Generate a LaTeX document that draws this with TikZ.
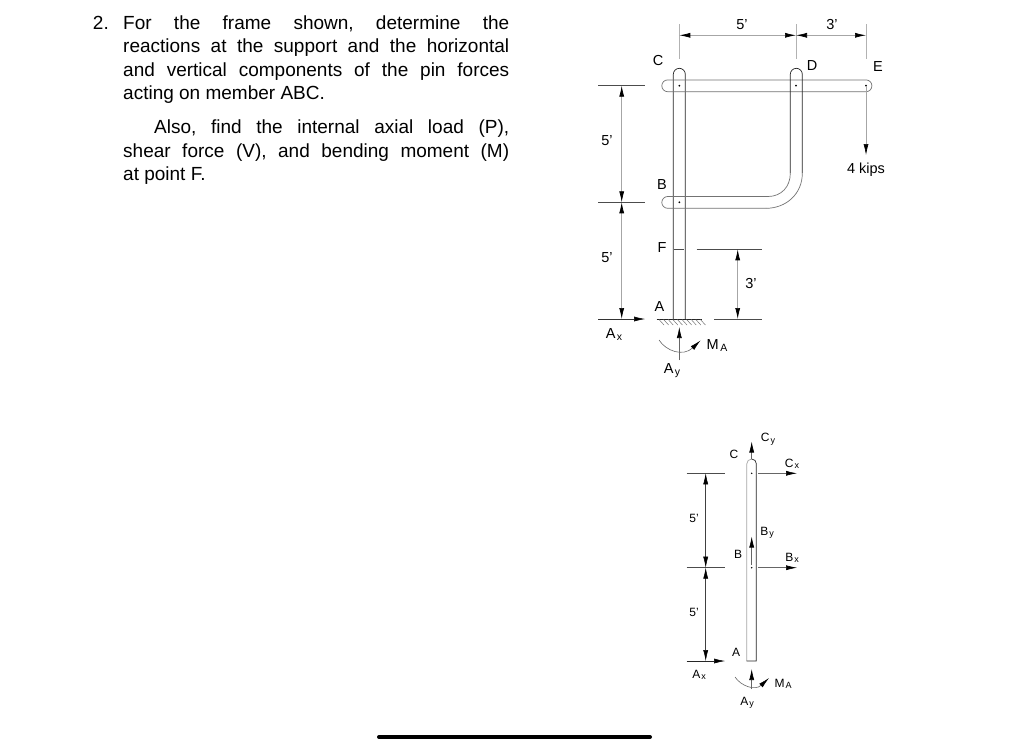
\documentclass[tikz,border=0pt]{standalone}
\usepackage{fontspec}
\setmainfont{Liberation Sans}
\usetikzlibrary{arrows.meta}
\frenchspacing
\tikzset{
 x=1pt,y=-1pt,
 member/.style={draw=black!85,line width=0.7pt},
 grayed/.style={draw=black!30,line width=0.8pt},
 ext/.style={draw=black!70,line width=0.5pt},
 dimline/.style={draw=black!35,line width=0.7pt,{Latex[black,length=11pt,width=5pt]}-{Latex[black,length=11pt,width=5pt]}},
 forcearrow/.style={draw=black!60,line width=0.6pt,-{Latex[black,length=11pt,width=5pt]}},
 lab/.style={inner sep=0pt,font=\fontsize{14.5}{14.5}\selectfont},
 slab/.style={inner sep=0pt,font=\fontsize{12}{12}\selectfont},
 pin/.style={circle,fill=black,inner sep=0pt,minimum size=2pt},
}
\newcommand{\subx}[2]{#1\kern1.5pt{\fontsize{10.5}{10.5}\selectfont\raisebox{-2pt}{#2}}}
\newcommand{\subs}[2]{#1\kern1pt{\fontsize{9}{9}\selectfont\raisebox{-1.5pt}{#2}}}
\begin{document}
\begin{tikzpicture}
\useasboundingbox (0,0) rectangle (1024,740);
\fill[white] (0,0) rectangle (1024,740);
% text
\node[inner sep=0pt,anchor=north east,font=\fontsize{19}{23.5}\selectfont] (num) at (109,16.5) {2.};
\node[inner sep=0pt,anchor=north west,text width=386pt,align=justify,font=\fontsize{19}{23.5}\selectfont\frenchspacing] (prob) at (123,15.5) {%
For the frame shown, determine the\linebreak
reactions at the support and the horizontal\linebreak
and vertical components of the pin forces\linebreak
acting on member ABC.\par\vspace{10.5pt}
\hspace*{31pt}Also, find the internal axial load (P),\linebreak
shear force (V), and bending moment (M)\linebreak
at point F.};
% coordinates upper
\coordinate (C) at (679.3,85.7);
\coordinate (D) at (796,85.7);
\coordinate (E) at (866,85.7);
\coordinate (B) at (679.3,202.3);
\coordinate (A) at (679.3,319);
\coordinate (F) at (679.3,249.3);
% members
\draw[member] (673.3,319) -- (673.3,74.3) arc[start angle=180,end angle=360,radius=6] -- (685.3,319);
\draw[member,draw=black!55] (866,79.9) -- (667.7,79.9) arc[start angle=270,end angle=90,radius=5.9] -- (866,91.7) arc[start angle=90,end angle=-90,radius=5.9];
\draw[member] (790.3,173.3) -- (790.3,74.3) arc[start angle=180,end angle=360,radius=6] -- (802.3,173.3);
\draw[member,draw=black!55] (768,196.5) -- (667.7,196.5) arc[start angle=270,end angle=90,radius=5.9] -- (766,208.3);
\draw[member,draw=black!55] (768,196.5) .. controls (781,196.5) and (790.3,187) .. (790.3,173.3);
\draw[member,draw=black!55] (766,208.3) .. controls (786,208.3) and (802.3,194) .. (802.3,173.3);
\node[pin] (pC) at (C) {};
\node[pin] (pD) at (D) {};
\node[pin] (pE) at (E) {};
\node[pin] (pB) at (B) {};
% support
\draw[member] (656.7,319) -- (701.7,319);
\foreach \i in {0,...,9} \draw[black!55,line width=0.5pt] ({659+\i*4.6},319.5) -- ({664+\i*4.6},325);
% top dims
\coordinate (t1) at (679.3,35.3);
\coordinate (t2) at (796,35.3);
\coordinate (t3) at (866,35.3);
\draw[grayed] (679.3,24) -- (679.3,59);
\draw[grayed] (796,24) -- (796,59);
\draw[grayed] (866,24) -- (866,59);
\draw[dimline] (t1) -- (t2);
\draw[dimline] (t2) -- (t3);
% left dims
\coordinate (l1) at (621.7,85.7);
\coordinate (l2) at (621.7,202.3);
\coordinate (l3) at (621.7,319);
\draw[ext] (598,85.7) -- (645,85.7);
\draw[ext] (598,202.3) -- (645,202.3);
\draw[dimline] (l1) -- (l2);
\draw[dimline] (l2) -- (l3);
\coordinate (ax0) at (598,319);
\coordinate (ax1) at (645,319);
\draw[ext,draw=black!80,-{Latex[black,length=11pt,width=5pt]}] (ax0) -- (ax1);
% F and 3'
\draw[ext] (674,249.3) -- (684,249.3);
\draw[ext] (696.7,249.3) -- (761.7,249.3);
\draw[ext] (714,319) -- (761.7,319);
\coordinate (f1) at (737.7,249.3);
\coordinate (f2) at (737.7,319);
\draw[dimline] (f1) -- (f2);
% load
\coordinate (load) at (866,155);
\draw[forcearrow,draw=black!35] (E) -- (load);
% Ay, MA
\coordinate (ay0) at (679.3,360);
\coordinate (ay1) at (679.3,327);
\draw[forcearrow] (ay0) -- (ay1);
\coordinate (ma0) at (659,340);
\coordinate (ma1) at (700.5,340.5);
\draw[forcearrow] (ma0) .. controls (666,351) and (683,357) .. (ma1);
% labels
\node[lab] (l5a) at (742,25) {5'};
\node[lab] (l3a) at (832,25) {3'};
\node[lab] (lC) at (658,61) {C};
\node[lab] (lD) at (812,66) {D};
\node[lab] (lE) at (878,67) {E};
\node[lab] (lB) at (662,184.5) {B};
\node[lab] (lF) at (662,248) {F};
\node[lab] (lA) at (659.5,307) {A};
\node[lab] (lk) at (866,170) {4 kips};
\node[lab] (l5b) at (607,141) {5'};
\node[lab] (l5c) at (607,258) {5'};
\node[lab] (l3b) at (751,283) {3'};
\node[lab] (lAx) at (614,335) {\subx{A}{x}};
\node[lab] (lAy) at (672,371) {\subx{A}{y}};
\node[lab] (lMA) at (717,346) {\subx{M}{A}};
% lower member
\coordinate (Cb) at (751.7,473.3);
\coordinate (Bb) at (751.7,567.7);
\draw[member,draw=black!35] (746.7,661) -- (746.7,464) arc[start angle=180,end angle=270,radius=5];
\draw[member] (751.7,459) arc[start angle=270,end angle=360,radius=4.6] -- (756.3,661) -- (746.7,661);
\node[pin,minimum size=1.6pt] (pCb) at (Cb) {};
\node[pin,minimum size=1.6pt] (pBb) at (Bb) {};
% lower dims
\draw[ext] (686.7,473.3) -- (725,473.3);
\draw[ext] (686.7,567.7) -- (725,567.7);
\coordinate (d1) at (705.7,473.3);
\coordinate (d2) at (705.7,567.7);
\coordinate (d3) at (705.7,661);
\draw[dimline,draw=black!75,line width=0.5pt] (d1) -- (d2);
\draw[dimline,draw=black!75,line width=0.5pt] (d2) -- (d3);
\coordinate (bx0) at (686.7,661);
\coordinate (bx1) at (725,661);
\draw[ext,draw=black!85,-{Latex[black,length=11pt,width=5pt]}] (bx0) -- (bx1);
% lower forces
\coordinate (cy1) at (751.7,441.5);
\coordinate (cy0) at (751.7,459);
\draw[forcearrow] (cy0) -- (cy1);
\coordinate (cx0) at (758,473.3);
\coordinate (cx1) at (797,473.3);
\draw[forcearrow] (cx0) -- (cx1);
\coordinate (bx2) at (758,567.7);
\coordinate (bx3) at (797,567.7);
\draw[forcearrow] (bx2) -- (bx3);
\coordinate (by0) at (751.7,565);
\coordinate (by1) at (751.7,536.5);
\draw[forcearrow] (by0) -- (by1);
\coordinate (ay2) at (751.7,689);
\coordinate (ay3) at (751.7,669);
\draw[forcearrow] (ay2) -- (ay3);
\coordinate (mb0) at (735,677);
\coordinate (mb1) at (769,678);
\draw[forcearrow] (mb0) .. controls (741,686) and (755,691) .. (mb1);
% lower labels
\node[slab] (bC) at (734,454) {C};
\node[slab] (bCy) at (768,439) {\subs{C}{y}};
\node[slab] (bCx) at (792,464) {\subs{C}{x}};
\node[slab] (b5a) at (694,518) {5'};
\node[slab] (bB) at (738,554) {B};
\node[slab] (bBy) at (767,533) {\subs{B}{y}};
\node[slab] (bBx) at (792,558) {\subs{B}{x}};
\node[slab] (b5b) at (694,612) {5'};
\node[slab] (bA) at (736,652) {A};
\node[slab] (bAx) at (699,675) {\subs{A}{x}};
\node[slab] (bAy) at (747,703) {\subs{A}{y}};
\node[slab] (bMA) at (783,684) {\subs{M}{A}};
% bottom bar
\draw[black,line width=4pt,line cap=round] (379,737) -- (650,737);
\end{tikzpicture}
\end{document}
